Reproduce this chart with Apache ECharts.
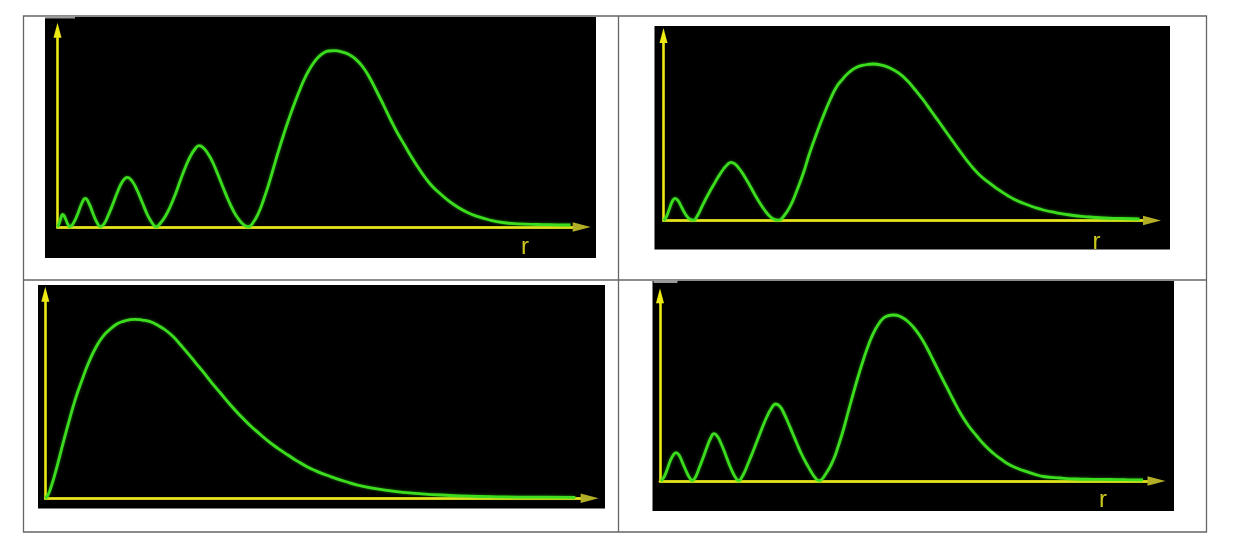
<!DOCTYPE html>
<html><head><meta charset="utf-8">
<script src="https://cdn.jsdelivr.net/npm/echarts@6/dist/echarts.min.js"></script>
<style>html,body{margin:0;padding:0;background:#fff;}#c{width:1242px;height:555px;}</style>
</head><body><div id="c"></div><script>
// Radial probability curves (r along the axis, P(r) height; arbitrary units)
const r5s = [0,2,4,5.2,6.5,8.5,10.5,12.5, 16,20,24,27.8,31.5,35.5,39.5,43.2, 46.5,50,55,60,65,69.8,74.5,79.5,85,90.5,95,98.5, 103,108,113,118,123,128,133,137.5,141.5,146,151,156,161,166,171,176,181,186,190.8, 196,201,206,211,216,221,226,231,236,241,246,251,256,261,266,271,277.5, 284,291,298,305,312,319,326,333,340,347,354,361,368,375,382,390,400,410,420,432,445,460,480,500,513];
const p5s = [0,4.5,11,12.7,11.5,7,2.5,0.3, 4,12.5,23,28.7,23.5,13.5,4.5,0.3, 3,10,22,35,45.5,49.7,46,37,24,11,3.5,0.3, 4,11,21,33,47,60,71,78,81.3,79,72.5,63,51,38.5,26.5,16,8,2.5,0.3, 5,14,27,42,59,76,92,107,121,134,146,156,164,170,174,176,176.3, 175.2,172.8,168,160.5,149.5,136,122,107.5,94,82,70,59,49,40.5,34,27,20,14.5,10.5,7,4.5,3.2,2.5,2.2,2];

const r3s = [0,3,6,9,11.5,14.5,18,21.5,25.5,29.8, 34,38,42,46,50,55,60,64,67.5,71,76,81,86,91,96,101,106,110,114.8, 120,126.5,133,139.8,146,153.2,160,166.5,173,179.8,186,193.2,200,209.8,218,226.5,235,243.2,251,259.8,268,276.5,285,293.2,301.5,309.8,318,326.5,335,343.2,351,359.8,370,379.8,393,406.5,423,439.8,458,476];
const p3s = [0,4,12,19.5,22.2,20,13.5,7,2,0.3, 5,13,21,28.5,35.5,44,51.5,56,58.2,56.8,51.5,44,35.5,26.5,18,10.5,4.5,1.5,0.3, 4,13.8,29,47.2,67,87.2,105,120.5,133.5,142.2,148.5,153.2,155.3,156.5,155.4,152.5,147.6,140.5,131.5,120.5,109,97.2,85.3,73.8,62.5,52.2,43.7,37.2,30.8,25.5,21,17.2,13.5,10.5,7.7,5.5,3.7,2.5,2,1.5];

const r1s = [0,2.5,5.3,9,13,18.5,24.5,30,35.9,43.5,51.2,58.5,66.5,72,78,84,89.5,97,104.8,112.5,120.1,128,135.4,143,150.7,158.5,166.1,175.5,185.2,194.7,204.3,214,223.5,233,242.6,252,261.7,271,280.9,300,319.1,338,357.4,376.5,395.7,415,433.9,452,472.2,500,530];
const p1s = [0,3,10,22,36.6,58,80,99,116,136,152,163,170.5,174.5,177,178.5,179,178.2,176.6,173,168.3,161.5,153.3,144.5,135,125.6,116,104.8,93.3,83,73.3,64.7,56.6,49.7,43.3,37.2,31.6,27.2,23.3,16.8,11.6,8.5,6,4.5,3.3,2.4,1.8,1.5,1.2,1.1,1];

const r4s = [1,4,7,10,13,16,19,22,25,28,30.5,32.3, 35.5,39,43,47,50.5,54,57.5,61.5,65.5,69.5,73.5,76.5,78.3, 83,88.3,93,96.7,100,103.3,107,111,115.7,120,124,128.3,132.5,136.7,141.5,146.7,151,155,158.8, 166,173.3,178.3,183.3,188.3,193.3,198.3,203.3,208.3,213.3,218.3,223.3,228.3,233.3,240,246.7,253.3,260,266.7,273.3,280,286.7,293.3,300,308.3,316.7,325,333.3,341.7,350,358.3,366.7,375,383.3,400,416.7,433,450,466,483];
const p4s = [0,4,11,19.5,25.5,28.3,26,19.5,12.5,6,2,0.3, 4,12.5,23,34,42.5,47.3,44.5,36.5,26.5,16,7,2,0.3, 6,18,29.5,39,47.5,56,64.5,72,77,74.5,67.5,58,48,38,27,17,9.5,3.5,0.3, 7.5,21,35,51,69.5,87.7,105,121,135.5,147.7,156.5,162.7,165.3,166,164.6,160.5,154,145,133.5,120.5,107,94,81,68.5,55.5,45,35.5,27.7,21.3,16,12.3,9.3,6.7,4.5,3,2,1.7,1.5,1.3,1.2];

const axisName = 'r';

// layout of the four panels (positions only)
const panels = [
  {r:r5s, p:p5s, left:57.5, top:37.7, w:515.2, h:189.3, bg:[45,17,551,241], label:[525,247], mark:[45,16,30,2.5]},
  {r:r3s, p:p3s, left:663.5, top:43, w:479.5, h:177.5, bg:[654.5,26,515.5,223.5], label:[1096.5,242.5]},
  {r:r1s, p:p1s, left:45.3, top:301.7, w:535.3, h:196.6, bg:[38,285,567,223.5], label:null},
  {r:r4s, p:p4s, left:660, top:303.3, w:487.5, h:177.7, bg:[652.5,281,521.5,230], label:[1103,500.5], mark:[653.5,280,24,3]}
];

const YELLOW = '#e8e41a', OLIVE = '#b2ae26', GREEN = '#3cdc1e';
const grid = [], xAxis = [], yAxis = [], series = [], graphic = [];

// table frame
graphic.push({type:'rect', z:-20, shape:{x:23.5, y:16, width:1183, height:516}, style:{fill:'none', stroke:'#666', lineWidth:1.3}});
graphic.push({type:'line', z:-20, shape:{x1:618.5, y1:16, x2:618.5, y2:532}, style:{stroke:'#666', lineWidth:1.3}});
graphic.push({type:'line', z:-20, shape:{x1:23.5, y1:280, x2:1206.5, y2:280}, style:{stroke:'#666', lineWidth:1.3}});

panels.forEach((pn, i) => {
  graphic.push({type:'rect', z:-10, shape:{x:pn.bg[0], y:pn.bg[1], width:pn.bg[2], height:pn.bg[3]}, style:{fill:'#000'}});
  if (pn.mark) graphic.push({type:'rect', z:-9, shape:{x:pn.mark[0], y:pn.mark[1], width:pn.mark[2], height:pn.mark[3]}, style:{fill:'#9a9a9a'}});
  if (pn.label) graphic.push({type:'text', z:5, x:pn.label[0], y:pn.label[1],
    style:{text:axisName, fill:'#ccc81e', font:'24px "Liberation Sans", Arial, sans-serif', align:'center', verticalAlign:'middle'}});

  grid.push({left:pn.left, top:pn.top, width:pn.w, height:pn.h, outerBoundsMode:'none', containLabel:false});
  const common = {gridIndex:i, type:'value', min:0, max:pn.w, axisTick:{show:false}, axisLabel:{show:false}, splitLine:{show:false}, position:'bottom'};
  // olive arrow axis (underneath)
  xAxis.push(Object.assign({}, common, {axisLine:{show:true, onZero:false, symbol:['none','triangle'], symbolSize:[9.5,18], symbolOffset:[0,9], lineStyle:{color:OLIVE, width:2.6}}}));
  // yellow axis line on top
  xAxis.push(Object.assign({}, common, {axisLine:{show:true, onZero:false, symbol:'none', lineStyle:{color:YELLOW, width:2.6}}}));
  yAxis.push({gridIndex:i, type:'value', min:0, max:pn.h, position:'left', axisTick:{show:false}, axisLabel:{show:false}, splitLine:{show:false},
    axisLine:{show:true, onZero:false, symbol:['none','triangle'], symbolSize:[8,15], symbolOffset:[0,7.5], lineStyle:{color:'#eeea14', width:2.6}}});
  series.push({type:'line', xAxisIndex:2*i+1, yAxisIndex:i, smooth:0.5, showSymbol:false, clip:false, z:3,
    data: pn.r.map((v,k) => [v, pn.p[k]]),
    lineStyle:{color:GREEN, width:2.8, shadowBlur:3, shadowColor:'rgba(60,220,30,0.55)'}});
});

const chart = echarts.init(document.getElementById('c'), null, {renderer:'canvas'});
chart.setOption({animation:false, backgroundColor:'#fff', grid, xAxis, yAxis, series, graphic});
</script></body></html>
